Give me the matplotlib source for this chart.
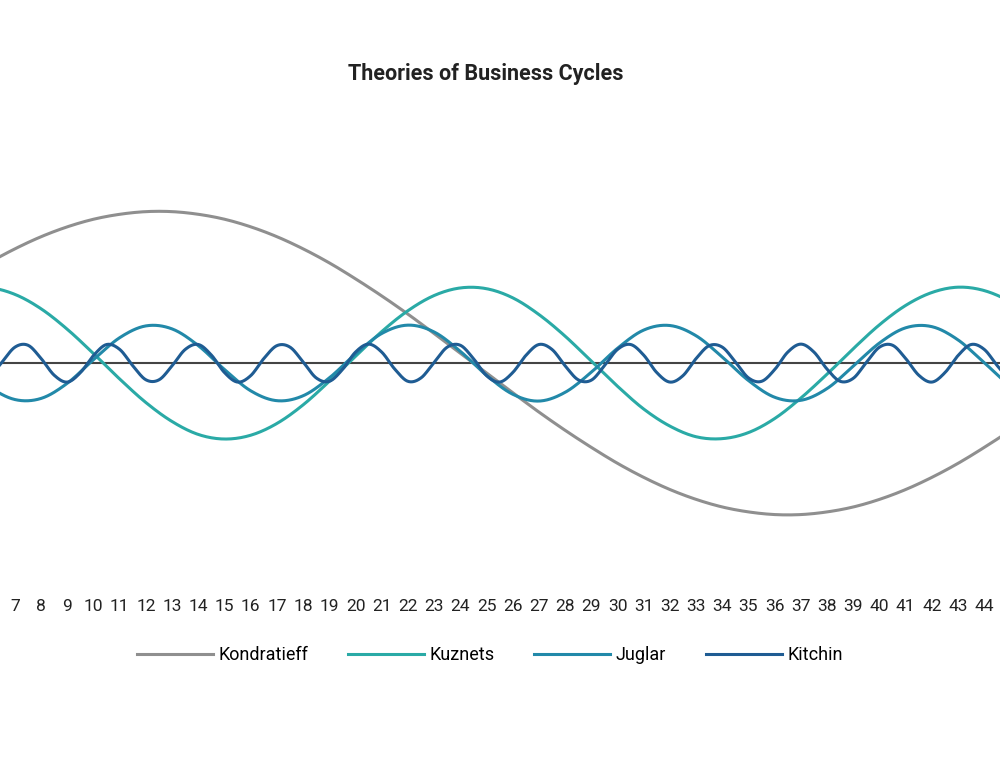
import numpy as np
import matplotlib
matplotlib.use("Agg")
import matplotlib.pyplot as plt

plt.rcParams['font.family'] = ['Roboto', 'DejaVu Sans']

x_int = list(range(5, 47))
kondratieff = [2.22, 2.64, 3.01, 3.33, 3.59, 3.79, 3.92, 3.99, 3.99, 3.92, 3.79, 3.59, 3.33, 3.01,
               2.64, 2.22, 1.77, 1.29, 0.78, 0.26, -0.26, -0.78, -1.29, -1.77, -2.22, -2.64, -3.01,
               -3.33, -3.59, -3.79, -3.92, -3.99, -3.99, -3.92, -3.79, -3.59, -3.33, -3.01, -2.64,
               -2.22, -1.77, -1.29]
kuznets = [1.95, 1.99, 1.81, 1.43, 0.89, 0.25, -0.42, -1.04, -1.54, -1.88, -2.00, -1.90, -1.59, -1.10,
           -0.48, 0.18, 0.83, 1.38, 1.78, 1.98, 1.96, 1.72, 1.28, 0.71, 0.05, -0.61, -1.21, -1.66,
           -1.94, -1.99, -1.83, -1.46, -0.92, -0.29, 0.38, 1.01, 1.52, 1.86, 2.00, 1.91, 1.61, 1.12]
juglar = [-0.01, -0.61, -0.96, -0.93, -0.53, 0.09, 0.67, 0.98, 0.90, 0.46, -0.17, -0.73, -0.99, -0.86,
          -0.39, 0.24, 0.78, 1.00, 0.82, 0.31, -0.32, -0.82, -1.00, -0.77, -0.24, 0.39, 0.87, 0.99,
          0.72, 0.16, -0.46, -0.90, -0.98, -0.67, -0.08, 0.53, 0.93, 0.96, 0.61, 0.01, -0.60, -0.96]
x_half = [5 + 0.5 * i for i in range(83)]
kitchin = [-0.16, -0.48, -0.39, 0.02, 0.42, 0.47, 0.12, -0.32, -0.50, -0.25, 0.20, 0.49, 0.36, -0.07,
           -0.44, -0.44, -0.07, 0.36, 0.49, 0.21, -0.25, -0.50, -0.33, 0.12, 0.46, 0.42, 0.03, -0.39,
           -0.48, -0.17, 0.29, 0.50, 0.29, -0.16, -0.48, -0.39, 0.02, 0.42, 0.47, 0.12, -0.33, -0.50,
           -0.25, 0.20, 0.49, 0.36, -0.07, -0.44, -0.45, -0.07, 0.36, 0.49, 0.21, -0.25, -0.50, -0.33,
           0.12, 0.46, 0.42, 0.03, -0.39, -0.48, -0.17, 0.29, 0.50, 0.29, -0.16, -0.48, -0.40, 0.02,
           0.42, 0.47, 0.12, -0.32, -0.50, -0.25, 0.20, 0.49, 0.36, -0.07, -0.44, -0.44, -0.07]
tick_pos = list(range(7, 45))
tick_labels = [str(i) for i in tick_pos]

def smooth(xs, ys, n=16):
    xs = np.asarray(xs, float); ys = np.asarray(ys, float)
    px = np.concatenate([[2*xs[0]-xs[1]], xs, [2*xs[-1]-xs[-2]]])
    py = np.concatenate([[2*ys[0]-ys[1]], ys, [2*ys[-1]-ys[-2]]])
    ox, oy = [], []
    t = np.linspace(0, 1, n, endpoint=False)
    for i in range(1, len(px)-2):
        for arr, out in ((px, ox), (py, oy)):
            p0, p1, p2, p3 = arr[i-1], arr[i], arr[i+1], arr[i+2]
            out.extend(0.5*((2*p1) + (-p0+p2)*t + (2*p0-5*p1+4*p2-p3)*t**2 + (-p0+3*p1-3*p2+p3)*t**3))
    ox.append(xs[-1]); oy.append(ys[-1])
    return ox, oy

fig = plt.figure(figsize=(10, 7.66), dpi=100)
ax = fig.add_axes([0, 0.243, 1, 0.561])
ax.axhline(0, color='#444444', lw=1.5, zorder=1)
series = [("Kondratieff", x_int, kondratieff, '#8f8f8f'),
          ("Kuznets", x_int, kuznets, '#2aaaa6'),
          ("Juglar", x_int, juglar, '#2289a9'),
          ("Kitchin", x_half, kitchin, '#1f5c93')]
for name, xs, ys, c in series:
    sx, sy = smooth(xs, ys)
    ax.plot(sx, sy, color=c, lw=2.2, label=name, zorder=2)
ax.set_xticks(tick_pos)
ax.set_xticklabels(tick_labels, fontsize=12.5, color='#222222')
ax.set_xlim(6.43, 44.6)
ax.set_ylim(-5.71, 5.61)
ax.tick_params(axis='x', length=0, pad=14)
ax.set_yticks([])
for s in ax.spines.values():
    s.set_visible(False)
fig.text(0.486, 0.904, "Theories of Business Cycles", ha='center', va='center',
         fontsize=15.5, fontweight='bold', color='#222222')
fig.legend(loc='center', bbox_to_anchor=(0.49, 0.145), ncol=4, frameon=False,
           fontsize=13, handlelength=4.2, columnspacing=2.2, handletextpad=0.3)
fig.savefig("out.png")
